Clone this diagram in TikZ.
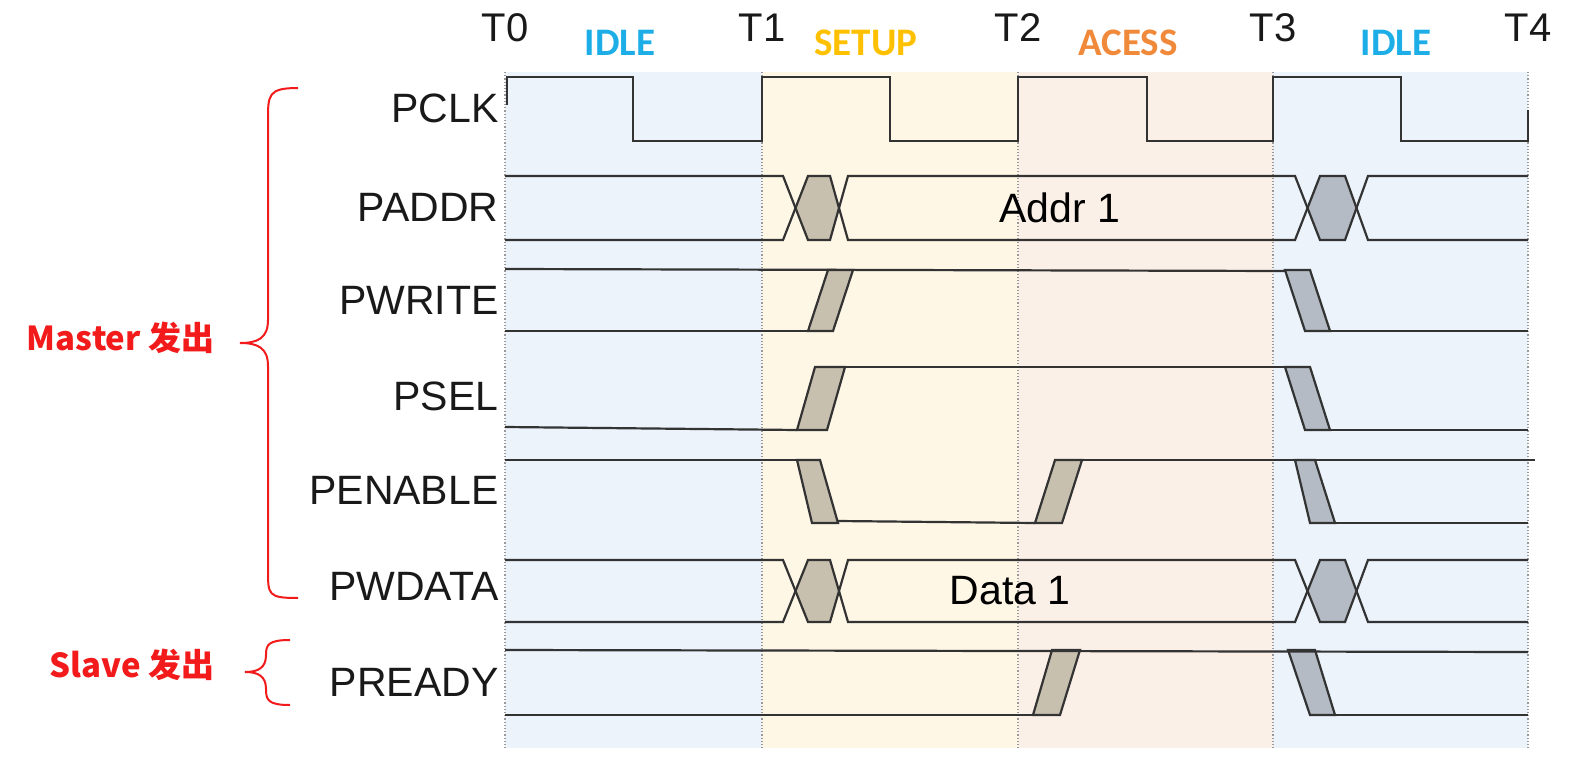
\documentclass[tikz,border=0pt]{standalone}
\usepackage{fontspec}
\setmainfont{Liberation Sans}
\newfontfamily\phfont{Carlito}
\newfontfamily\cjk{Noto Sans CJK SC}
\begin{document}
\begin{tikzpicture}[x=1pt,y=-1pt,
  sig/.style={line width=2.2pt,draw=black!80,line join=miter},
  shA/.style={sig,fill=tanc},
  shB/.style={sig,fill=bluc},
  lab/.style={anchor=east,font=\fontsize{41}{45}\selectfont,text=black!90},
  tl/.style={anchor=base,font=\fontsize{40}{44}\selectfont,text=black!90},
  ph/.style={anchor=base,font=\phfont\bfseries\fontsize{39}{42}\selectfont},
  red/.style={text=redc,font=\cjk\bfseries\fontsize{33}{36}\selectfont}]
\definecolor{tanc}{HTML}{C8C0AE}
\definecolor{bluc}{HTML}{B4BBC4}
\definecolor{redc}{HTML}{F21A1A}
\useasboundingbox (0,0) rectangle (1587,778);
% backgrounds
\fill[fill={rgb,255:red,236;green,243;blue,251}] (505,72) rectangle (762,748);
\fill[fill={rgb,255:red,254;green,247;blue,230}] (762,72) rectangle (1018,748);
\fill[fill={rgb,255:red,251;green,240;blue,232}] (1018,72) rectangle (1273,748);
\fill[fill={rgb,255:red,236;green,243;blue,251}] (1273,72) rectangle (1528,748);
\foreach \x in {505,762,1018,1273,1528} \draw[black!40,dotted,line width=1.2pt] (\x,72) -- (\x,748);
% time labels
\node[tl] (t0) at (505,42) {T0};
\node[tl] (t1) at (762,42) {T1};
\node[tl] (t2) at (1018,42) {T2};
\node[tl] (t3) at (1273,42) {T3};
\node[tl] (t4) at (1528,42) {T4};
\node[ph,text={rgb,255:red,29;green,174;blue,232}] (p1) at (620,56) {IDLE};
\node[ph,text={rgb,255:red,255;green,192;blue,0}] (p2) at (866,56) {SETUP};
\node[ph,text={rgb,255:red,240;green,138;blue,58}] (p3) at (1128,56) {ACESS};
\node[ph,text={rgb,255:red,29;green,174;blue,232}] (p4) at (1396,56) {IDLE};
% signal labels
\node[lab] (l1) at (502,108) {PCLK};
\node[lab] (l2) at (502,207) {PADDR};
\node[lab] (l3) at (502,300) {PWRITE};
\node[lab] (l4) at (502,396) {PSEL};
\node[lab] (l5) at (502,490) {PENABLE};
\node[lab] (l6) at (502,586) {PWDATA};
\node[lab] (l7) at (502,682) {PREADY};
% PCLK
\draw[sig] (507,105) -- (507,77) -- (633,77) -- (633,141) -- (762,141) -- (762,77) -- (890,77) -- (890,141) -- (1018,141) -- (1018,77) -- (1147,77) -- (1147,141) -- (1273,141) -- (1273,77) -- (1401,77) -- (1401,141) -- (1528,141) -- (1528,110);
% buses
\foreach \t/\b/\m in {176/240/208, 560/622/591}{
  \fill[tanc] (795,\m) -- (808,\t) -- (830,\t) -- (839,\m) -- (830,\b) -- (808,\b) -- cycle;
  \fill[bluc] (1307,\m) -- (1320,\t) -- (1345,\t) -- (1357,\m) -- (1345,\b) -- (1320,\b) -- cycle;
  \draw[sig] (505,\t) -- (783,\t) -- (808,\b) -- (830,\b) -- (848,\t) -- (1295,\t) -- (1320,\b) -- (1345,\b) -- (1368,\t) -- (1528,\t);
  \draw[sig] (505,\b) -- (783,\b) -- (808,\t) -- (830,\t) -- (848,\b) -- (1295,\b) -- (1320,\t) -- (1345,\t) -- (1368,\b) -- (1528,\b);
}
\node[font=\fontsize{41}{45}\selectfont] (a1) at (1060,208) {Addr 1};
\node[font=\fontsize{41}{45}\selectfont] (d1) at (1010,591) {Data 1};
% PWRITE
\draw[shA] (808,331) -- (828,270) -- (853,270) -- (833,331) -- cycle;
\draw[shB] (1285,270) -- (1310,270) -- (1330,331) -- (1305,331) -- cycle;
\draw[sig] (505,269) -- (1285,271);
\draw[sig] (505,331) -- (808,331);
\draw[sig] (1305,331) -- (1528,331);
% PSEL
\draw[shA] (797,430) -- (815,367) -- (845,367) -- (827,430) -- cycle;
\draw[shB] (1285,367) -- (1310,367) -- (1330,430) -- (1305,430) -- cycle;
\draw[sig] (505,427) -- (797,430);
\draw[sig] (845,367) -- (1285,367);
\draw[sig] (1305,430) -- (1528,430);
% PENABLE
\draw[shA] (797,460) -- (820,460) -- (838,523) -- (812,523) -- cycle;
\draw[shA] (1035,523) -- (1055,460) -- (1082,460) -- (1062,523) -- cycle;
\draw[shB] (1295,460) -- (1315,460) -- (1335,523) -- (1310,523) -- cycle;
\draw[sig] (505,460) -- (797,460);
\draw[sig] (838,521) -- (1035,523);
\draw[sig] (1082,460) -- (1535,460);
\draw[sig] (1335,523) -- (1528,523);
% PREADY
\draw[shA] (1033,715) -- (1052,650) -- (1080,650) -- (1060,715) -- cycle;
\draw[shB] (1288,650) -- (1315,650) -- (1335,715) -- (1310,715) -- cycle;
\draw[sig] (505,650) -- (1528,652);
\draw[sig] (505,715) -- (1033,715);
\draw[sig] (1335,715) -- (1528,715);
% braces
\draw[redc,line width=2pt] (298,88) .. controls (268,88) and (268,95) .. (268,120) -- (268,320) .. controls (268,338) and (258,343) .. (240,343) .. controls (258,343) and (268,348) .. (268,366) -- (268,570) .. controls (268,595) and (268,598) .. (298,598);
\draw[redc,line width=2pt] (290,640) .. controls (268,640) and (266,645) .. (266,655) .. controls (266,668) and (258,672) .. (245,672) .. controls (258,672) and (266,676) .. (266,689) .. controls (266,700) and (268,705) .. (290,705);
\node[red,anchor=east] (m) at (218,338) {Master 发出};
\node[red,anchor=east] (s) at (218,665) {Slave 发出};
\end{tikzpicture}
\end{document}
